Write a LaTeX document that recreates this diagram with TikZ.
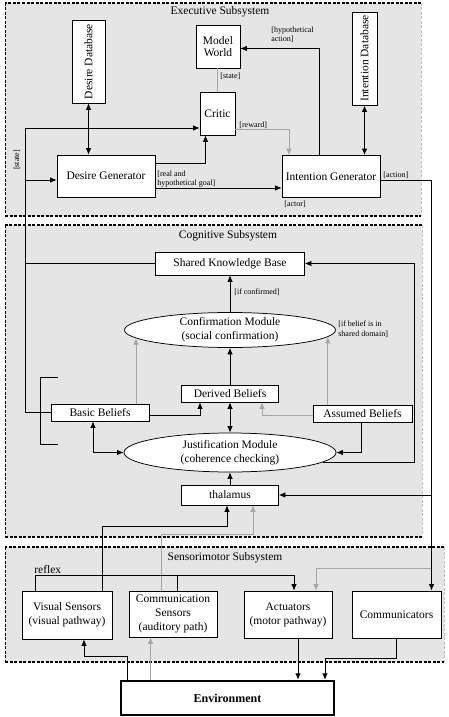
\documentclass[tikz,border=0pt]{standalone}
\usepackage{fontspec}
\setmainfont{Liberation Serif}
\usepackage{tikz}
\usetikzlibrary{positioning,arrows.meta,shapes.geometric}

\begin{document}
\begin{tikzpicture}[>={Latex[length=6.5pt,width=5.5pt]},x=1pt,y=-1pt,line width=0.75pt,font=\fontsize{11.5}{14}\selectfont,
	unit/.style={draw,fill=white,inner sep=0pt,align=center},
	module/.style={ellipse,draw,fill=white,inner sep=0pt,align=center},
	tag/.style={font=\fontsize{8}{9.5}\selectfont,align=left,inner sep=1pt},
	faint/.style={gray!70},
	rim/.style={dash pattern=on 3pt off 1.5pt}]
\useasboundingbox (0,0) rectangle (449,717);
	\foreach \t/\b/\r in {3/216/421,225/537/422,547/662/444}{
		\fill[black!10] (5,\t) rectangle (\r,\b);
		\draw[rim,line width=1.1pt] (\r,\t) -- (5,\t);
		\draw[rim,line width=1.1pt] (5,\b) -- (\r,\b);
		\draw[rim,line width=0.6pt] (5,\t) -- (5,\b);
		\draw[rim,gray!50,line width=0.6pt] (\r,\t) -- (\r,\b);
	}
\node (T1) at (220,12) {Executive Subsystem};
\node (T2) at (228,236) {Cognitive Subsystem};
\node (T3) at (225,558) {Sensorimotor Subsystem};

\node[unit,minimum width=44pt,minimum height=43pt] (MW) at (218,46.5) {Model\\[-2pt]World};
\node[unit,minimum width=35pt,minimum height=43pt] (CR) at (217.5,113.5) {Critic};
\node[unit,rotate=90,minimum width=83pt,minimum height=33pt] (DD) at (88.5,61.5) {Desire Database};
\node[unit,rotate=90,minimum width=93pt,minimum height=25pt] (ID) at (364.5,58.5) {Intention Database};
\node[unit,minimum width=98pt,minimum height=42pt] (DG) at (106,176) {Desire Generator};
\node[unit,minimum width=98pt,minimum height=42pt] (IG) at (331,176.5) {Intention Generator};

\node[unit,minimum width=149pt,minimum height=23pt] (SKB) at (230,263.5) {Shared Knowledge Base};
\node[module,minimum width=211pt,minimum height=35pt] (CM) at (230,330) {Confirmation Module\\(social confirmation)};
\node[unit,minimum width=97pt,minimum height=17pt] (DB) at (230,393.5) {Derived Beliefs};
\node[unit,minimum width=98pt,minimum height=17pt] (BB) at (100,412.5) {Basic Beliefs};
\node[unit,minimum width=99pt,minimum height=17pt] (AB) at (362.5,413.5) {Assumed Beliefs};
\node[module,minimum width=212pt,minimum height=39pt] (JM) at (230,452.5) {Justification Module\\(coherence checking)};
\node[unit,minimum width=97pt,minimum height=20pt] (TH) at (230,495) {thalamus};

\node[unit,minimum width=90pt,minimum height=48pt] (VS) at (67,615) {Visual Sensors\\(visual pathway)};
\node[unit,minimum width=88pt,minimum height=46pt] (CS) at (173,614) {Communication\\Sensors\\(auditory path)};
\node[unit,minimum width=88pt,minimum height=47pt] (AC) at (288,614.5) {Actuators\\(motor pathway)};
\node[unit,minimum width=89pt,minimum height=47pt] (CO) at (396.5,614.5) {Communicators};
\node[unit,line width=2.4pt,minimum width=213pt,minimum height=34pt,font=\bfseries\fontsize{12}{14}\selectfont] (EN) at (227.5,698) {Environment};

\coordinate (S0) at (25,128);
\coordinate (S1) at (25,180);
\coordinate (S2) at (25,263.5);
\coordinate (S3) at (25,412.5);
\coordinate (G1) at ([yshift=-12pt]DG.east);
\coordinate (K1) at (414,263.5);
\coordinate (A1) at (431,495);
\coordinate (A2) at (431,568);

\draw [<->] (DD.west) -- (DD.west |- DG.north);
\draw [<->,line width=1.4pt] (ID.west) -- (ID.west |- IG.north);
\draw [->] (S3) -- (S0) -- (S0 -| CR.west);
\draw [->] (S1) -- (S1 -| DG.west);
\draw (S2) -- (SKB.west);
\draw (S3) -- (BB.west);
\draw [->] ([yshift=13pt]DG.east) -| ([xshift=-12pt]CR.south);
\draw [->] (G1) -- (G1 -| IG.west);
\draw [faint] (MW.south -| CR.north) -- (CR.north);
\draw [faint,->] ([yshift=-16pt]CR.east) -| ([xshift=-42pt]IG.north);
\draw [->] ([xshift=-12pt]IG.north) |- ([yshift=-2pt]MW.east);
\draw [->,line width=1pt] ([yshift=-3.5pt]IG.east) -| ([xshift=35pt]CO.north);
\draw [->] (A1) -- (TH.east);
\draw [faint,->] (A2) -| ([xshift=28pt]AC.north);

\draw [->] (CM.north) -- (SKB.south);
\draw [->] (DB.north) -- (CM.south);
\draw [faint,->] (BB.north -| CM.185) -- (CM.185);
\draw [faint,->] (AB.north -| CM.356) -- (CM.356);
\draw [->] ([yshift=-3pt]BB.east) -| ([xshift=-30pt]DB.south);
\draw [faint,->] ([yshift=-2pt]AB.west) -| ([xshift=32pt]DB.south);
\draw [<->] (DB.south) -- (JM.north);
\draw [<->] ([xshift=-7pt]BB.south) |- (JM.west);
\draw [->] ([xshift=-1pt]AB.south) |- (JM.east);
\draw [->] (JM.354) -| (K1) -- (SKB.east);
\draw [->] (TH.north) -- (JM.south);
\draw (58,377) -| (40,444) -- (58,444);

\draw [->] ([xshift=35pt]VS.north) -- ++(0,-64) -| ([xshift=-3pt]TH.south);
\draw [faint,->] ([xshift=-12pt]CS.north) -- ++(0,-56) -| ([xshift=23pt]TH.south);
\draw [->] ([xshift=-32pt]VS.north) -- ++(0,-15) -| ([xshift=6pt]AC.north);
\draw ([xshift=4pt]CS.north) -- ++(0,-15);
\draw [->] ([xshift=-100pt]EN.north) -- ++(0,-23) -| ([xshift=17pt]VS.south);
\draw [faint,->] ([xshift=-77pt]EN.north) -- ([xshift=-22.5pt]CS.south);
\draw [->,line width=1pt] ([xshift=10pt]AC.south) -- ([xshift=70.5pt]EN.north);
\draw [->,line width=1pt] (CO.south) -- ++(0,20) -| ([xshift=97.5pt]EN.north);

\node[tag,rotate=90] (L1) at (17,160) {[state]};
\node[tag,anchor=west] (L2) at (156,179) {[real and\\hypothetical goal]};
\node[tag,anchor=west] (L3) at (238,125) {[reward]};
\node[tag,anchor=west] (L4) at (219,76) {[state]};
\node[tag,anchor=west] (L5) at (270,35) {[hypothetical\\action]};
\node[tag,anchor=west] (L6) at (382,175) {[action]};
\node[tag,anchor=west] (L7) at (283,204) {[actor]};
\node[tag,anchor=west] (L8) at (233,292) {[if confirmed]};
\node[tag,anchor=west] (L9) at (337,329) {[if belief is in\\shared domain]};
\node[anchor=south west,inner sep=1pt] (L10) at (33,575) {reflex};
\end{tikzpicture}
\end{document}
